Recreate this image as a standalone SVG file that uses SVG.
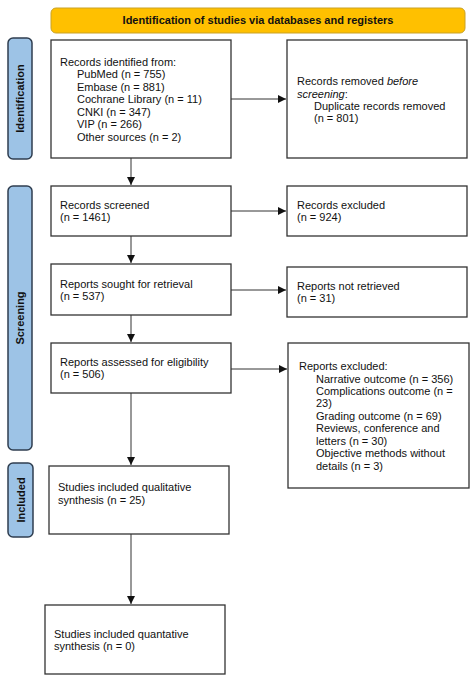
<svg xmlns="http://www.w3.org/2000/svg" width="474" height="676" viewBox="0 0 474 676">
<defs>
<style>
.box{fill:#fff;stroke:#333;stroke-width:1.3}
.side{fill:#9DC3E6;stroke:#2F3E50;stroke-width:1.5}
.hdr{fill:#FFC000;stroke:#C9A227;stroke-width:1}
text{font-family:"Liberation Sans",Arial,sans-serif;font-size:11px;fill:#111}
.b{font-weight:bold}
.conn line{stroke:#333;stroke-width:1;marker-end:url(#ah)}
</style>
<marker id="ah" viewBox="0 0 10 10" refX="10" refY="5" markerWidth="8" markerHeight="8" markerUnits="userSpaceOnUse" orient="auto">
<path d="M0,0 L10,5 L0,10 z" fill="#111"/>
</marker>
</defs>
<rect width="474" height="676" fill="#fff"/>
<g id="header">
<rect class="hdr" x="51" y="8" width="414" height="25" rx="5"/>
<text class="b" x="258" y="24" text-anchor="middle">Identification of studies via databases and registers</text>
</g>
<g id="side-identification">
<rect class="side" x="8" y="38" width="24" height="121" rx="5"/>
<text class="b" transform="translate(24,98.5) rotate(-90)" text-anchor="middle">Identification</text>
</g>
<g id="side-screening">
<rect class="side" x="8" y="186" width="24" height="264" rx="5"/>
<text class="b" transform="translate(24,318) rotate(-90)" text-anchor="middle">Screening</text>
</g>
<g id="side-included">
<rect class="side" x="8" y="463" width="25" height="74" rx="5"/>
<text class="b" transform="translate(24.5,500) rotate(-90)" text-anchor="middle">Included</text>
</g>
<g id="records-identified">
<rect class="box" x="51" y="40" width="180" height="118"/>
<text x="60" y="66">Records identified from:</text>
<text x="77" y="78">PubMed (n = 755)</text>
<text x="77" y="91">Embase (n = 881)</text>
<text x="77" y="103">Cochrane Library (n = 11)</text>
<text x="77" y="116">CNKI (n = 347)</text>
<text x="77" y="128">VIP (n = 266)</text>
<text x="77" y="141">Other sources (n = 2)</text>
</g>
<g id="records-removed">
<rect class="box" x="287" y="40" width="180" height="118"/>
<text x="297" y="85">Records removed <tspan font-style="italic">before</tspan></text>
<text x="297" y="98"><tspan font-style="italic">screening</tspan>:</text>
<text x="314" y="110">Duplicate records removed</text>
<text x="314" y="122">(n = 801)</text>
</g>
<g id="records-screened">
<rect class="box" x="51" y="186" width="180" height="50"/>
<text x="60" y="209">Records screened</text>
<text x="60" y="221">(n = 1461)</text>
</g>
<g id="records-excluded">
<rect class="box" x="287" y="186" width="180" height="50"/>
<text x="297" y="209">Records excluded</text>
<text x="297" y="221">(n = 924)</text>
</g>
<g id="reports-sought">
<rect class="box" x="51" y="264" width="180" height="51"/>
<text x="60" y="288">Reports sought for retrieval</text>
<text x="60" y="300">(n = 537)</text>
</g>
<g id="reports-not-retrieved">
<rect class="box" x="287" y="267" width="180" height="50"/>
<text x="297" y="290">Reports not retrieved</text>
<text x="297" y="302">(n = 31)</text>
</g>
<g id="reports-assessed">
<rect class="box" x="51" y="343" width="180" height="50"/>
<text x="60" y="366">Reports assessed for eligibility</text>
<text x="60" y="378">(n = 506)</text>
</g>
<g id="reports-excluded">
<rect class="box" x="288" y="343" width="181" height="145"/>
<text x="299" y="370">Reports excluded:</text>
<text x="316" y="383">Narrative outcome (n = 356)</text>
<text x="316" y="395">Complications outcome (n =</text>
<text x="316" y="407">23)</text>
<text x="316" y="420">Grading outcome (n = 69)</text>
<text x="316" y="432">Reviews, conference and</text>
<text x="316" y="445">letters (n = 30)</text>
<text x="316" y="457">Objective methods without</text>
<text x="316" y="470">details (n = 3)</text>
</g>
<g id="qualitative">
<rect class="box" x="49" y="466" width="180" height="68"/>
<text x="58" y="491">Studies included qualitative</text>
<text x="58" y="504">synthesis (n = 25)</text>
</g>
<g id="quantitative">
<rect class="box" x="45" y="605" width="180" height="69"/>
<text x="54" y="638">Studies included quantative</text>
<text x="54" y="650">synthesis (n = 0)</text>
</g>
<g id="connectors" class="conn">
<line x1="231" y1="99" x2="286" y2="99"/>
<line x1="131" y1="158" x2="131" y2="185"/>
<line x1="231" y1="211" x2="286" y2="211"/>
<line x1="131" y1="236" x2="131" y2="263"/>
<line x1="231" y1="290" x2="286" y2="290"/>
<line x1="131" y1="315" x2="131" y2="342"/>
<line x1="231" y1="369" x2="287" y2="369"/>
<line x1="131" y1="393" x2="131" y2="465"/>
<line x1="131" y1="534" x2="131" y2="604"/>
</g>
</svg>
